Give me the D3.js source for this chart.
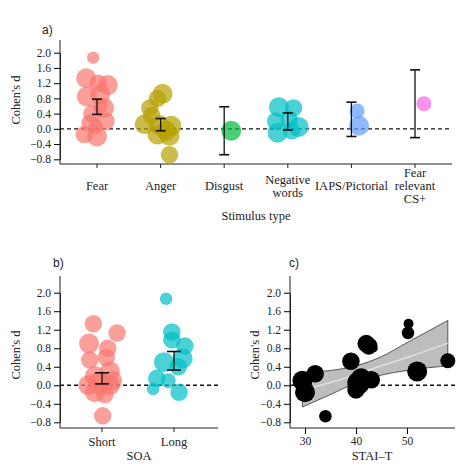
<!DOCTYPE html>
<html><head><meta charset="utf-8">
<script src="https://cdn.jsdelivr.net/npm/d3@7"></script>
<style>
body{margin:0;background:#fff}
text{font-family:"Liberation Serif","Times New Roman",serif !important;fill:#222}
.tick text{font-size:11.5px}
.lbl{font-size:12.5px}
.tag{font-family:"Liberation Sans",Arial,sans-serif !important;font-size:12px}
</style></head><body>
<script>
// ---- data ----
const stimTypes = ["Fear","Anger","Disgust","Negative\nwords","IAPS/Pictorial","Fear\nrelevant\nCS+"];
const stimColors = ["#F8766D","#B79F00","#00BA38","#00BFC4","#619CFF","#F564E3"];
// [category index, jitter (in category units), d, size]
const stimPoints = [
  [0,-0.06,1.87,5],[0,-0.17,1.33,8],[0,0.02,1.2,7],[0,0.17,1.15,8],[0,-0.16,0.85,8],[0,0.05,0.9,8],
  [0,0.11,0.55,8],[0,-0.08,0.4,7],[0,0.14,0.2,7],[0,-0.11,0.15,7],[0,-0.2,-0.15,7],[0,0,-0.2,8],
  [0,-0.02,0.05,6],[0,0.05,0.6,6],
  [1,0.03,0.92,8],[1,-0.05,0.8,7],[1,-0.17,0.55,7],[1,-0.14,0.35,7],[1,-0.25,0.12,8],[1,-0.02,0.1,8],
  [1,0.17,0.08,8],[1,0.09,-0.05,8],[1,-0.05,-0.15,8],[1,0.14,-0.18,8],[1,0.14,-0.68,7],
  [2,0.11,-0.05,8],
  [3,-0.14,0.57,8],[3,0.09,0.55,7],[3,-0.19,0.2,7],[3,0.02,0.25,7],[3,0.17,0.05,8],[3,-0.16,-0.1,8],[3,0.06,-0.05,7],
  [4,0.09,0.47,6],[4,0.12,0.08,8],
  [5,0.14,0.66,6]
];
const stimCI = [[0.38,0.78],[-0.05,0.27],[-0.68,0.58],[-0.03,0.42],[-0.2,0.7],[-0.23,1.55]];

const soaTypes = ["Short","Long"];
const soaColors = ["#F8766D","#00BFC4"];
const soaPoints = [
  [0,-0.12,1.33,7],[0,0.21,1.13,7],[0,-0.18,0.9,8],[0,0.08,0.8,7],[0,-0.17,0.55,7],[0,0.06,0.6,7],
  [0,0.11,0.3,8],[0,-0.1,0.2,8],[0,-0.03,0.05,9],[0,-0.19,0,8],[0,0.14,0.1,8],[0,-0.1,-0.15,8],
  [0,0.04,-0.2,7],[0,0.01,-0.66,7],[0,0.11,0,8],
  [1,-0.11,1.87,5],[1,-0.03,1.15,7],[1,-0.03,0.98,7],[1,0.15,0.85,7],[1,0.12,0.58,8],[1,-0.14,0.5,8],
  [1,0.06,0.4,7],[1,-0.24,0.15,7],[1,-0.08,0.1,6],[1,0.07,-0.15,7],[1,-0.29,-0.08,5]
];
const soaCI = [[0.03,0.27],[0.33,0.73]];

const staiX = [29.5,30,32,34,39,40,40.5,41,42,42.5,43.5,43,50.3,50.2,52,58];
const staiD = [0.1,-0.15,0.25,-0.67,0.52,-0.1,0.05,0.15,0.9,0.85,0.8,0.12,1.33,1.13,0.3,0.53];
const staiSize = [8,8,7,5,7,7,9,8,7,7,3,7,4,5,8,6];
const fitX = [29.5,35,40,45,50,58];
const fitLo = [-0.47,-0.2,0.05,0.22,0.32,0.42];
const fitHi = [0.27,0.32,0.42,0.62,0.92,1.40];
const fitMid = [-0.1,0.06,0.23,0.42,0.6,0.91];

const yTicks = [-0.8,-0.4,0,0.4,0.8,1.2,1.6,2.0];
const rScale = 1.25;

const svg = d3.select("body").append("svg").attr("width",474).attr("height",474);

function yAxisPanel(g, y, x0, tag, tagX, tagY, labelX, labelY) {
  g.append("g").attr("transform",`translate(${x0},0)`)
    .call(d3.axisLeft(y).tickValues(yTicks).tickFormat(d3.format(".1f")).tickSizeOuter(0))
    .attr("font-family",null)
    .call(a=>a.select(".domain").attr("stroke","#222"));
  g.append("text").attr("class","lbl").attr("transform",`translate(${labelX},${labelY}) rotate(-90)`)
    .attr("text-anchor","middle").text("Cohen's d");
  g.append("text").attr("class","tag").attr("x",tagX).attr("y",tagY).text(tag);
}
function zeroLine(g, y, x0, x1) {
  g.append("line").attr("x1",x0).attr("x2",x1).attr("y1",y(0)).attr("y2",y(0))
    .attr("stroke","#111").attr("stroke-width",1.3).attr("stroke-dasharray","4,3");
}
function errBars(g, x, y, ci, w) {
  ci.forEach((c,i)=>{
    const cx = x(i);
    g.append("line").attr("x1",cx).attr("x2",cx).attr("y1",y(c[0])).attr("y2",y(c[1])).attr("stroke","#111").attr("stroke-width",1.3);
    [c[0],c[1]].forEach(v=>g.append("line").attr("x1",cx-w).attr("x2",cx+w).attr("y1",y(v)).attr("y2",y(v)).attr("stroke","#111").attr("stroke-width",1.6));
  });
}

// ---- panel a ----
{
  const g = svg.append("g");
  const y = d3.scaleLinear().domain([-0.8,2.0]).range([159.3,52.7]);
  const x = i => 97 + i*63.6;
  const band = 63.6;
  yAxisPanel(g, y, 60, "a)", 42, 34, 20, 100);
  g.append("line").attr("x1",60).attr("x2",452).attr("y1",164).attr("y2",164).attr("stroke","#222");
  g.append("line").attr("x1",60).attr("x2",60).attr("y1",40).attr("y2",164).attr("stroke","#222");
  stimTypes.forEach((s,i)=>{
    g.append("line").attr("x1",x(i)).attr("x2",x(i)).attr("y1",164).attr("y2",168).attr("stroke","#222");
    const t = g.append("text").attr("class","lbl").attr("text-anchor","middle").attr("x",x(i)).attr("y",190);
    const lines = s.split("\n");
    const off = lines.length===1?0:(lines.length===2?-6:-13);
    lines.forEach((l,k)=>t.append("tspan").attr("x",x(i)).attr("dy",k===0?off:13).text(l));
  });
  g.append("text").attr("class","lbl").attr("text-anchor","middle").attr("x",256).attr("y",220).text("Stimulus type");
  zeroLine(g, y, 60, 452);
  g.selectAll("circle").data(stimPoints).join("circle")
    .attr("cx",d=>x(d[0])+d[1]*band).attr("cy",d=>y(d[2])).attr("r",d=>d[3]*rScale)
    .attr("fill",d=>stimColors[d[0]]).attr("fill-opacity",0.7);
  errBars(g, x, y, stimCI, 5);
}

// ---- panel b ----
{
  const g = svg.append("g");
  const y = d3.scaleLinear().domain([-0.8,2.0]).range([422.3,292.7]);
  const x = i => 102 + i*72;
  const band = 72;
  yAxisPanel(g, y, 60, "b)", 53, 267, 20, 355);
  g.append("line").attr("x1",60).attr("x2",218).attr("y1",428).attr("y2",428).attr("stroke","#222");
  g.append("line").attr("x1",60).attr("x2",60).attr("y1",276).attr("y2",428).attr("stroke","#222");
  soaTypes.forEach((s,i)=>{
    g.append("line").attr("x1",x(i)).attr("x2",x(i)).attr("y1",428).attr("y2",432).attr("stroke","#222");
    g.append("text").attr("class","lbl").attr("text-anchor","middle").attr("x",x(i)).attr("y",446).text(s);
  });
  g.append("text").attr("class","lbl").attr("text-anchor","middle").attr("x",139).attr("y",460).text("SOA");
  zeroLine(g, y, 60, 218);
  g.selectAll("circle").data(soaPoints).join("circle")
    .attr("cx",d=>x(d[0])+d[1]*band).attr("cy",d=>y(d[2])).attr("r",d=>d[3]*rScale)
    .attr("fill",d=>soaColors[d[0]]).attr("fill-opacity",0.7);
  errBars(g, x, y, soaCI, 7);
}

// ---- panel c ----
{
  const g = svg.append("g");
  const y = d3.scaleLinear().domain([-0.8,2.0]).range([422.3,292.7]);
  const x = d3.scaleLinear().domain([30,50]).range([305,407]);
  yAxisPanel(g, y, 290, "c)", 289, 267, 259, 355);
  g.append("g").attr("transform","translate(0,428)")
    .call(d3.axisBottom(x).tickValues([30,40,50]).tickSizeOuter(0))
    .attr("font-family",null)
    .call(a=>a.select(".domain").remove());
  g.append("line").attr("x1",290).attr("x2",455).attr("y1",428).attr("y2",428).attr("stroke","#222");
  g.append("line").attr("x1",290).attr("x2",290).attr("y1",276).attr("y2",428).attr("stroke","#222");
  g.append("text").attr("class","lbl").attr("text-anchor","middle").attr("x",372).attr("y",460).text("STAI\u2013T");
  zeroLine(g, y, 290, 455);
  const idx = d3.range(fitX.length);
  g.append("path").datum(idx)
    .attr("d",d3.area().x(i=>x(fitX[i])).y0(i=>y(fitLo[i])).y1(i=>y(fitHi[i])).curve(d3.curveMonotoneX))
    .attr("fill","#bdbdbd").attr("stroke","#333").attr("stroke-width",0.8);
  g.append("path").datum(idx)
    .attr("d",d3.line().x(i=>x(fitX[i])).y(i=>y(fitMid[i])).curve(d3.curveMonotoneX))
    .attr("fill","none").attr("stroke","#e0e0e0").attr("stroke-width",1.5);
  g.selectAll("circle").data(staiX).join("circle")
    .attr("cx",(d)=>x(d)).attr("cy",(d,i)=>y(staiD[i])).attr("r",(d,i)=>staiSize[i]*rScale).attr("fill","#000");
}
</script>
</body></html>
